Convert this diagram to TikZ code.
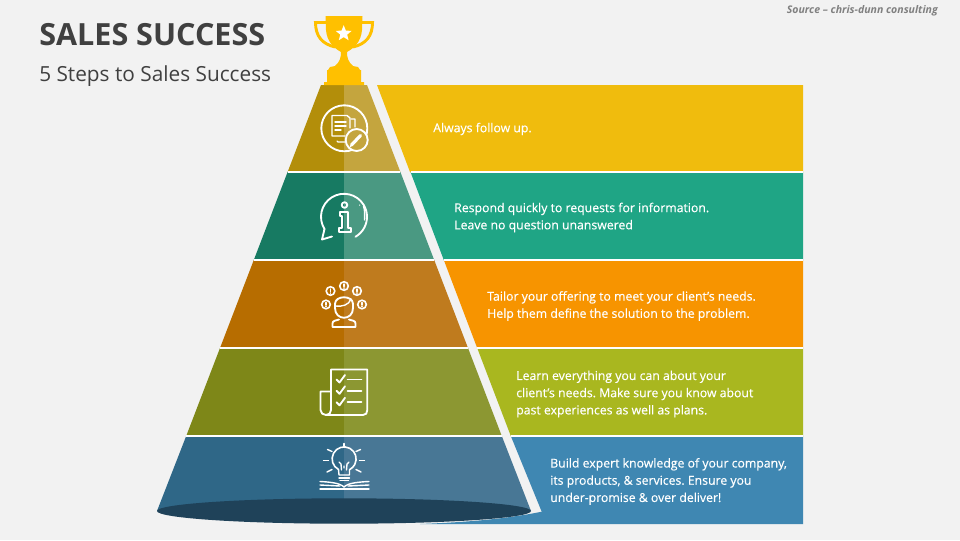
\documentclass[tikz,border=0pt]{standalone}
\usepackage{fontspec}
\setmainfont{Open Sans}
\usetikzlibrary{calc}
\usetikzlibrary{shapes.geometric}
\definecolor{pagebg}{HTML}{F2F2F2}
\definecolor{titlegray}{HTML}{404040}
\definecolor{cupgold}{HTML}{FFC000}
\definecolor{panelA}{HTML}{F0BC0D}
\definecolor{panelB}{HTML}{1FA585}
\definecolor{panelC}{HTML}{F79400}
\definecolor{panelD}{HTML}{A9B71F}
\definecolor{panelE}{HTML}{3F87B2}
\definecolor{darkA}{HTML}{B38E0A}
\definecolor{darkB}{HTML}{177A62}
\definecolor{darkC}{HTML}{B76D00}
\definecolor{darkD}{HTML}{7E8718}
\definecolor{darkE}{HTML}{2F6787}
\definecolor{lightA}{HTML}{C4A53E}
\definecolor{lightB}{HTML}{4A9982}
\definecolor{lightC}{HTML}{BF7B1E}
\definecolor{lightD}{HTML}{8C9732}
\definecolor{lightE}{HTML}{487795}
\definecolor{baseoval}{HTML}{1F4259}
\tikzset{
  steptext/.style={anchor=west,align=left,text=white,inner sep=0pt,
    font=\fontsize{9.2}{12.9}\selectfont\addfontfeature{FakeBold=0.4}\frenchspacing},
  icon/.style={draw=white,line width=1.4pt,line cap=round,line join=round},
  thinicon/.style={draw=white,line width=1.05pt,line cap=round,line join=round},
  bandgap/.style={draw=white,line width=1.5pt},
}
\begin{document}
\begin{tikzpicture}[x=0.75pt,y=-0.75pt]
  \fill[pagebg] (0,0) rectangle (960,540);
  \useasboundingbox (0,0) rectangle (960,540);

  % right hand panels
  \fill[panelA] (377,85) -- (410,172) -- (803,172) -- (803,85) -- cycle;
  \fill[panelB] (410.5,172) -- (443.8,260) -- (803,260) -- (803,172) -- cycle;
  \fill[panelC] (443.8,260) -- (477.2,348) -- (803,348) -- (803,260) -- cycle;
  \fill[panelD] (477.2,348) -- (510.8,436) -- (803,436) -- (803,348) -- cycle;
  \fill[panelE] (510.8,436) -- (541.7,511.7) .. controls (505,519) and (470,522) .. (420,524)
    -- (803,524) -- (803,436) -- cycle;

  % pyramid, each band in two halves
  \foreach \ya/\yb/\xa/\xb/\dk/\lt in {85/172/23/56.4/darkA/lightA,
      172/260/56.4/90.2/darkB/lightB,
      260/348/90.2/124/darkC/lightC,
      348/436/124/157.8/darkD/lightD,
      436/511/157.8/187/darkE/lightE}{
    \fill[\dk] (344-\xa,\ya) -- (344,\ya) -- (344,\yb) -- (344-\xb,\yb) -- cycle;
    \fill[\lt] (344+\xa,\ya) -- (344,\ya) -- (344,\yb) -- (344+\xb,\yb) -- cycle;
  }
  \fill[baseoval] (344,511) ellipse (187 and 12.7);

  % white lines between the bands
  \draw[bandgap] (287.6,172) -- (400.4,172) (410.5,172) -- (803,172);
  \draw[bandgap] (253.8,260) -- (434.2,260) (443.8,260) -- (803,260);
  \draw[bandgap] (220,348) -- (468,348) (477.2,348) -- (803,348);
  \draw[bandgap] (186.2,436) -- (501.8,436) (510.8,436) -- (803,436);

  % trophy
  \fill[cupgold] (325.5,16) -- (362.5,16) -- (362,30) .. controls (361,42) and (354,48) .. (347,52)
    .. controls (347,57) and (348,62) .. (353,66) -- (358,67) -- (360,70) -- (361,70) -- (361,82)
    -- (364,82) -- (364,85) -- (324,85) -- (324,82) -- (327,82) -- (327,70) -- (328,70) -- (330,67)
    -- (335,66) .. controls (340,62) and (341,57) .. (341,52) .. controls (334,48) and (327,42) .. (326,30) -- cycle;
  \draw[cupgold,line width=2.2pt] (327,22.5) -- (315.5,22.5) .. controls (315.5,36) and (322,44) .. (335,47);
  \draw[cupgold,line width=2.2pt] (361,22.5) -- (372.5,22.5) .. controls (372.5,36) and (366,44) .. (353,47);
  \node[star,star points=5,star point ratio=2.3,fill=white,inner sep=0pt,minimum size=12.5pt] (cupstar) at (343.7,33.5) {};

  % documents icon
  \draw[icon] (344.3,128.3) circle (23);
  \draw[thinicon] (350,128) -- (350,118) -- (347,115.5) -- (332,115.5) -- (332,136) -- (345,136);
  \draw[thinicon] (351,119) -- (355,119) -- (355,127) (337,141) -- (338,142) -- (346,142);
  \draw[thinicon] (335,122) -- (346,122) (335,126) -- (346,126) (335,130) -- (341,130);
  \filldraw[icon,fill=lightA] (356.7,140) circle (11);
  \draw[icon,line width=2.4pt] (351.5,145) -- (360.5,135.5);
  \draw[thinicon] (350.5,146.5) -- (351.5,145);

  % info bubble icon
  \draw[icon] (324.5,229) arc[start angle=148,end angle=420,radius=23] ;
  \draw[icon] (324.5,229) -- (322,239.5) -- (332,236.5);
  \draw[icon] (344.5,205) circle (2.8);
  \draw[icon] (340,212) -- (348,212) -- (348,228) -- (351,228) -- (351,232) -- (339,232) -- (339,228) -- (342,228) -- (342,216) -- (340,216) -- cycle;
  \draw[thinicon] (363.5,206) .. controls (364.5,209) and (365,213) .. (364.5,220);
  \draw[thinicon] (359.5,205) -- (359.7,205.2);

  % client with questions icon
  \draw[icon] (335,304) .. controls (335,295) and (353,295) .. (353,304) -- (353,308)
    .. controls (353,321) and (335,321) .. (335,308) -- cycle;
  \draw[thinicon] (335,306) .. controls (342,307) and (349,305) .. (351,299);
  \draw[icon] (332.5,327) -- (332.5,323.5) .. controls (332.5,320.5) and (336,320.5) .. (339,319.5)
    (349,319.5) .. controls (352,320.5) and (355.5,320.5) .. (355.5,323.5) -- (355.5,327) -- (332.5,327);
  \foreach \bx/\by in {330.5/291,344/286,357/291,326/304.5,362/304.5}{
    \draw[icon,line width=1.2pt] (\bx,\by) circle (4.3);
    \draw[thinicon] (\bx,\by-2) -- (\bx,\by+0.5) (\bx,\by+2) -- (\bx,\by+2.2);
  }

  % checklist icon
  \draw[icon] (331,391.5) -- (331,369.5) -- (367.3,369.5) -- (367.3,410) .. controls (367.3,413) and (366,415) .. (363,415) -- (326,415);
  \draw[icon] (331,391.5) -- (320.5,391.5) -- (320.5,410) .. controls (320.5,413) and (323,415) .. (326,415)
    .. controls (329,415) and (331,413) .. (331,410) -- (331,391.5);
  \foreach \cy in {379.5,390.8,402.3}{
    \draw[icon] (336.5,\cy) -- (339.5,\cy+3) -- (345,\cy-4.5);
    \draw[icon] (347.5,\cy) -- (361.5,\cy);
  }

  % bulb and book icon
  \draw[icon,line width=1.2pt] (338.5,469.5) arc[start angle=118,end angle=422,radius=12] ;
  \draw[thinicon] (338.5,469.5) -- (339,475) -- (349.5,475) -- (349.5,469.5);
  \draw[thinicon] (339,478) -- (349.5,478) (340,480.5) -- (348.5,480.5);
  \draw[thinicon] (341.5,470) -- (341,464) -- (339,462) (346.5,470) -- (347,464) -- (349,462) (344,468) -- (344,466);
  \foreach \rax/\ray/\rbx/\rby in {344/443.5/344/446.5,327.5/449.5/332/451.5,360.5/449.5/356/451.5,
      323.5/460.5/328.5/460.5,364.5/460.5/359.5/460.5,327/472/332/469.5,361/472/356/469.5}{
    \draw[thinicon] (\rax,\ray) -- (\rbx,\rby);
  }
  \draw[thinicon] (320,481.5) .. controls (330,482) and (340,483) .. (344,487) .. controls (348,483) and (358,482) .. (369,481.5);
  \draw[thinicon] (320,485) -- (340,486) (348,486) -- (369,485);
  \draw[thinicon] (320,489) -- (369,489);

  % texts
  \node[anchor=west,inner sep=0pt,text=titlegray,font=\fontsize{22.9}{28}\selectfont\bfseries] (maintitle) at (39,35) {SALES SUCCESS};
  \node[anchor=west,inner sep=0pt,text=titlegray,font=\fontsize{15.6}{20}\selectfont] (subtitle) at (39,76) {5 Steps to Sales Success};
  \node[anchor=east,inner sep=0pt,text=gray,font=\fontsize{7.9}{9}\selectfont\bfseries\itshape] (source) at (938,11) {Source -- chris-dunn consulting};

  \node[steptext] (stepA) at (433,129) {Always follow up.};
  \node[steptext] (stepB) at (454,217.5) {Respond quickly to requests for information.\\Leave no question unanswered};
  \node[steptext] (stepC) at (487,306) {Tailor your offering to meet your client’s needs.\\Help them define the solution to the problem.};
  \node[steptext] (stepD) at (516,394) {Learn everything you can about your\\client’s needs. Make sure you know about\\past experiences as well as plans.};
  \node[steptext] (stepE) at (550,481.5) {Build expert knowledge of your company,\\its products, \& services. Ensure you\\under-promise \& over deliver!};
\end{tikzpicture}
\end{document}
